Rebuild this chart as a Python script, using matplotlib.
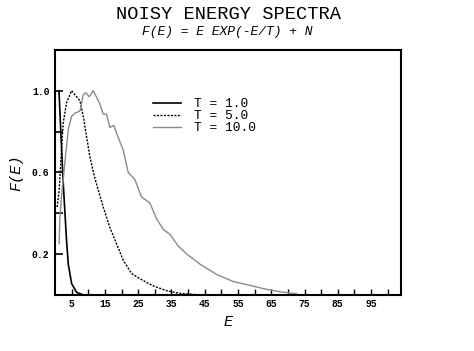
import matplotlib
matplotlib.use("Agg")
import matplotlib.pyplot as plt

# ---- Values ----
e_t1 = [1.2, 1.8, 2.4, 3.0, 3.5, 4.0, 5.0, 6.5, 8.5]
f_t1 = [1.0, 0.78, 0.57, 0.40, 0.26, 0.15, 0.055, 0.012, 0.0]

e_t5 = [0.65, 1.25, 2.45, 3.45, 5.0, 6.0, 7.5, 8.5, 9.5, 10.5, 12.0, 14.5,
        16.5, 18.5, 20.5, 23.0, 25.6, 29.5, 33.6, 37.6, 43.6]
f_t5 = [0.43, 0.51, 0.84, 0.94, 1.0, 0.98, 0.95, 0.875, 0.775, 0.675, 0.57,
        0.43, 0.33, 0.25, 0.17, 0.105, 0.078, 0.044, 0.02, 0.007, 0.0]

e_t10 = [1.25, 1.45, 1.95, 2.45, 2.95, 4.0, 5.0, 6.0, 7.5, 8.5, 9.3, 10.3,
         11.5, 13.5, 14.5, 15.5, 16.5, 17.7, 19.0, 20.5, 22.0, 24.0, 26.0,
         28.5, 30.6, 32.6, 34.6, 37.0, 39.6, 43.6, 48.6, 53.6, 57.7, 62.7,
         67.7, 72.7]
f_t10 = [0.25, 0.37, 0.48, 0.56, 0.645, 0.81, 0.875, 0.89, 0.9, 0.98, 0.99,
         0.97, 1.0, 0.935, 0.885, 0.885, 0.82, 0.83, 0.77, 0.71, 0.6, 0.565,
         0.48, 0.45, 0.37, 0.32, 0.295, 0.24, 0.2, 0.15, 0.1, 0.065, 0.05,
         0.03, 0.015, 0.005]

labels = ["T = 1.0", "T = 5.0", "T = 10.0"]
x_ticks = list(range(5, 101, 5))
x_ticklabels = [str(t) if t % 10 == 5 else "" for t in x_ticks]
y_ticks = [0.2, 0.4, 0.6, 0.8, 1.0]
y_ticklabels = ["0.2", "", "0.6", "", "1.0"]

mono = "Liberation Mono"

fig = plt.figure(figsize=(4.74, 3.51), dpi=100)
ax = fig.add_axes([0.116, 0.16, 0.73, 0.698])

ax.plot(e_t1, f_t1, color="black", lw=1.2, label=labels[0])
ax.plot(e_t5, f_t5, color="black", lw=1.0, linestyle=(0, (1.5, 1.0)),
        label=labels[1])
ax.plot(e_t10, f_t10, color="#8a8a8a", lw=1.0, label=labels[2])

ax.set_xlim(0, 104)
ax.set_ylim(0, 1.2)
ax.set_xticks(x_ticks)
ax.set_xticklabels(x_ticklabels, family=mono, weight="bold", fontsize=7)
ax.set_yticks(y_ticks)
ax.set_yticklabels(y_ticklabels, family=mono, weight="bold", fontsize=7)
ax.tick_params(axis="x", direction="in", length=4, width=1.0, pad=3)
ax.tick_params(axis="y", direction="in", length=6, width=1.2, pad=4)
for s in ax.spines.values():
    s.set_linewidth(1.5)

ax.set_xlabel("E", family=mono, style="italic", fontsize=11, labelpad=4)
ax.set_ylabel("F(E)", family=mono, style="italic", fontsize=11, labelpad=6)

ax.legend(loc="upper left", bbox_to_anchor=(0.283, 0.803), frameon=False,
          borderpad=0, borderaxespad=0, handlelength=2.2, handletextpad=1.0,
          labelspacing=0.0, prop={"family": mono, "size": 9.3})

fig.text(0.482, 0.96, "NOISY ENERGY SPECTRA", family=mono, fontsize=13.5,
         ha="center", va="center")
fig.text(0.48, 0.909, "F(E) = E EXP(-E/T) + N", family=mono, style="italic",
         fontsize=9.4, ha="center", va="center")

fig.savefig("out.png", dpi=100)
